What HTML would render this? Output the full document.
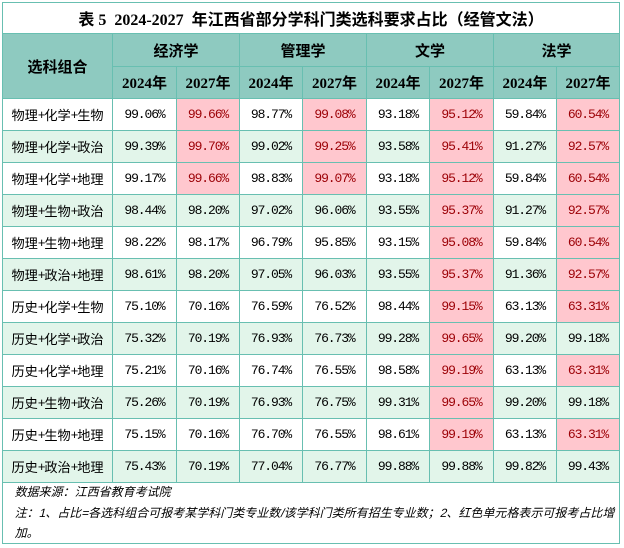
<!DOCTYPE html>
<html>
<head>
<meta charset="utf-8">
<style>
html,body{margin:0;padding:0;background:#fff;}
body{width:624px;height:548px;position:relative;overflow:hidden;}
.t{position:absolute;left:2px;top:2px;width:618px;box-sizing:border-box;
  border-left:1px solid #68bfb1;border-top:1px solid #68bfb1;
  display:grid;
  grid-template-columns:110px 64px 63px 63px 64px 63px 64px 63px 63px;
  grid-template-rows:31px 33px 32px repeat(12,32px) 61px;}
.t>div{box-sizing:border-box;border-right:1px solid #68bfb1;border-bottom:1px solid #68bfb1;
  display:flex;align-items:center;justify-content:center;white-space:nowrap;}
.title{grid-column:1 / span 9;background:#fff;font-family:"Liberation Serif","Noto Sans CJK SC",serif;font-weight:bold;font-size:16px;color:#000;}
.h{background:#8ecac0;font-family:"Liberation Serif","Noto Sans CJK SC",serif;font-weight:bold;font-size:15px;color:#000;}
.hl{grid-row:2 / span 2;font-family:"Liberation Sans","Noto Sans CJK SC",sans-serif;font-size:15px;}
.hg{grid-column:span 2;font-family:"Liberation Sans","Noto Sans CJK SC",sans-serif;font-size:15px;}
.l{font-family:"Noto Sans CJK SC",sans-serif;font-size:13.2px;color:#000;background:#fff;}
.l i{font-style:normal;display:inline-block;width:6.5px;text-align:center;font-family:"Liberation Sans",sans-serif;font-size:13px;}
.n{font-family:"Liberation Mono",monospace;font-size:13px;letter-spacing:-1.1px;color:#000;background:#fff;}
.g{background:#e2f5ea !important;}
.p{background:#ffc7ce !important;color:#9c0006 !important;}
.note{grid-column:1 / span 9;display:block !important;background:#fff;font-family:"Liberation Sans","Noto Sans CJK SC",sans-serif;font-size:12px;line-height:20.5px;padding-left:10px;color:#000;}
.note span{display:block;position:relative;top:-1px;transform:skewX(-14deg);transform-origin:0 100%;}
</style>
</head>
<body>
<div class="t">
<div class="title">表 5 &nbsp;2024-2027 &nbsp;年江西省部分学科门类选科要求占比（经管文法）</div>
<div class="h hl">选科组合</div>
<div class="h hg">经济学</div>
<div class="h hg">管理学</div>
<div class="h hg">文学</div>
<div class="h hg">法学</div>
<div class="h">2024年</div><div class="h">2027年</div>
<div class="h">2024年</div><div class="h">2027年</div>
<div class="h">2024年</div><div class="h">2027年</div>
<div class="h">2024年</div><div class="h">2027年</div>

<div class="l">物理<i>+</i>化学<i>+</i>生物</div><div class="n">99.06%</div><div class="n p">99.66%</div><div class="n">98.77%</div><div class="n p">99.08%</div><div class="n">93.18%</div><div class="n p">95.12%</div><div class="n">59.84%</div><div class="n p">60.54%</div>

<div class="l g">物理<i>+</i>化学<i>+</i>政治</div><div class="n g">99.39%</div><div class="n p">99.70%</div><div class="n g">99.02%</div><div class="n p">99.25%</div><div class="n g">93.58%</div><div class="n p">95.41%</div><div class="n g">91.27%</div><div class="n p">92.57%</div>

<div class="l">物理<i>+</i>化学<i>+</i>地理</div><div class="n">99.17%</div><div class="n p">99.66%</div><div class="n">98.83%</div><div class="n p">99.07%</div><div class="n">93.18%</div><div class="n p">95.12%</div><div class="n">59.84%</div><div class="n p">60.54%</div>

<div class="l g">物理<i>+</i>生物<i>+</i>政治</div><div class="n g">98.44%</div><div class="n g">98.20%</div><div class="n g">97.02%</div><div class="n g">96.06%</div><div class="n g">93.55%</div><div class="n p">95.37%</div><div class="n g">91.27%</div><div class="n p">92.57%</div>

<div class="l">物理<i>+</i>生物<i>+</i>地理</div><div class="n">98.22%</div><div class="n">98.17%</div><div class="n">96.79%</div><div class="n">95.85%</div><div class="n">93.15%</div><div class="n p">95.08%</div><div class="n">59.84%</div><div class="n p">60.54%</div>

<div class="l g">物理<i>+</i>政治<i>+</i>地理</div><div class="n g">98.61%</div><div class="n g">98.20%</div><div class="n g">97.05%</div><div class="n g">96.03%</div><div class="n g">93.55%</div><div class="n p">95.37%</div><div class="n g">91.36%</div><div class="n p">92.57%</div>

<div class="l">历史<i>+</i>化学<i>+</i>生物</div><div class="n">75.10%</div><div class="n">70.16%</div><div class="n">76.59%</div><div class="n">76.52%</div><div class="n">98.44%</div><div class="n p">99.15%</div><div class="n">63.13%</div><div class="n p">63.31%</div>

<div class="l g">历史<i>+</i>化学<i>+</i>政治</div><div class="n g">75.32%</div><div class="n g">70.19%</div><div class="n g">76.93%</div><div class="n g">76.73%</div><div class="n g">99.28%</div><div class="n p">99.65%</div><div class="n g">99.20%</div><div class="n g">99.18%</div>

<div class="l">历史<i>+</i>化学<i>+</i>地理</div><div class="n">75.21%</div><div class="n">70.16%</div><div class="n">76.74%</div><div class="n">76.55%</div><div class="n">98.58%</div><div class="n p">99.19%</div><div class="n">63.13%</div><div class="n p">63.31%</div>

<div class="l g">历史<i>+</i>生物<i>+</i>政治</div><div class="n g">75.26%</div><div class="n g">70.19%</div><div class="n g">76.93%</div><div class="n g">76.75%</div><div class="n g">99.31%</div><div class="n p">99.65%</div><div class="n g">99.20%</div><div class="n g">99.18%</div>

<div class="l">历史<i>+</i>生物<i>+</i>地理</div><div class="n">75.15%</div><div class="n">70.16%</div><div class="n">76.70%</div><div class="n">76.55%</div><div class="n">98.61%</div><div class="n p">99.19%</div><div class="n">63.13%</div><div class="n p">63.31%</div>

<div class="l g">历史<i>+</i>政治<i>+</i>地理</div><div class="n g">75.43%</div><div class="n g">70.19%</div><div class="n g">77.04%</div><div class="n g">76.77%</div><div class="n g">99.88%</div><div class="n g">99.88%</div><div class="n g">99.82%</div><div class="n g">99.43%</div>

<div class="note"><span>数据来源：江西省教育考试院</span><span>注：1、占比=各选科组合可报考某学科门类专业数/该学科门类所有招生专业数；2、红色单元格表示可报考占比增</span><span>加。</span></div>
</div>
</body>
</html>
